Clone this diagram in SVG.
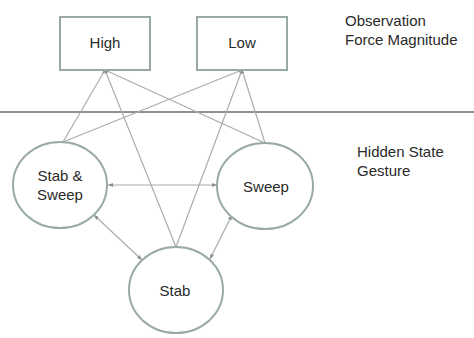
<svg xmlns="http://www.w3.org/2000/svg" width="474" height="338" viewBox="0 0 474 338">
<style>
.node{fill:#fff;stroke:#98aaa3;stroke-width:2}
.lbl{font-family:"Liberation Sans",Arial,sans-serif;font-size:15px;fill:#2a2a2a;text-anchor:middle}
.note{font-family:"Liberation Sans",Arial,sans-serif;font-size:15px;fill:#2a2a2a}
.edge{stroke:#a9aeac;stroke-width:1.2;fill:none}
</style>
<defs>
<marker id="ah" viewBox="0 0 10 10" refX="10" refY="5" markerWidth="5" markerHeight="5" orient="auto-start-reverse" markerUnits="userSpaceOnUse">
<path d="M0,1 L10,5 L0,9 Z" fill="#8a908e"/>
</marker>
<marker id="ahs" viewBox="0 0 10 10" refX="10" refY="5" markerWidth="3.5" markerHeight="3.5" orient="auto" markerUnits="userSpaceOnUse">
<path d="M0,1 L10,5 L0,9 Z" fill="#8a908e"/>
</marker>
</defs>
<rect width="474" height="338" fill="#fff"/>
<line x1="0" y1="112" x2="474" y2="112" stroke="#6b6b6b" stroke-width="1.3"/>
<text class="note" x="345" y="26">Observation</text>
<text class="note" x="345" y="45">Force Magnitude</text>
<text class="note" x="357" y="157">Hidden State</text>
<text class="note" x="357" y="176">Gesture</text>
<g id="connectors">
<line class="edge" x1="63" y1="142" x2="105" y2="70" marker-end="url(#ahs)"/>
<line class="edge" x1="176" y1="247" x2="105" y2="70" marker-end="url(#ahs)"/>
<line class="edge" x1="265" y1="143" x2="105" y2="70" marker-end="url(#ahs)"/>
<line class="edge" x1="63" y1="142" x2="242" y2="70" marker-end="url(#ahs)"/>
<line class="edge" x1="176" y1="247" x2="242" y2="70" marker-end="url(#ahs)"/>
<line class="edge" x1="265" y1="143" x2="242" y2="70" marker-end="url(#ahs)"/>
<line class="edge" x1="108" y1="185" x2="217" y2="185" marker-start="url(#ah)" marker-end="url(#ah)"/>
<line class="edge" x1="94" y1="215" x2="142" y2="260" marker-start="url(#ah)" marker-end="url(#ah)"/>
<line class="edge" x1="232" y1="215" x2="210" y2="259" marker-start="url(#ah)" marker-end="url(#ah)"/>
</g>
<g id="high">
<rect class="node" x="60" y="17" width="90" height="53"/>
<text class="lbl" x="105" y="48">High</text>
</g>
<g id="low">
<rect class="node" x="197" y="17" width="90" height="53"/>
<text class="lbl" x="242" y="48">Low</text>
</g>
<g id="stabsweep">
<ellipse class="node" cx="60" cy="185" rx="47" ry="43"/>
<text class="lbl" x="60" y="181">Stab &amp;</text>
<text class="lbl" x="60" y="200">Sweep</text>
</g>
<g id="sweep">
<ellipse class="node" cx="265" cy="186" rx="48" ry="43"/>
<text class="lbl" x="266" y="192">Sweep</text>
</g>
<g id="stab">
<ellipse class="node" cx="176" cy="290" rx="47" ry="43"/>
<text class="lbl" x="175" y="296">Stab</text>
</g>
</svg>
